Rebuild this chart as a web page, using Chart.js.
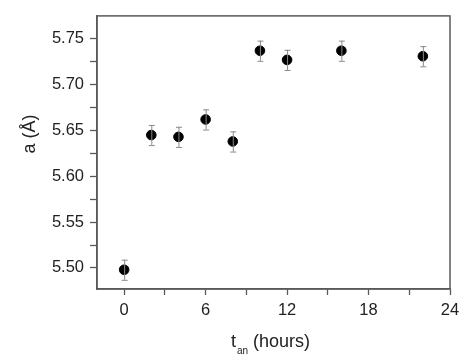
<!DOCTYPE html>
<html>
<head>
<meta charset="utf-8">
<script src="https://cdn.jsdelivr.net/npm/chart.js@4.4.0/dist/chart.umd.min.js"></script>
<style>
  html, body { margin: 0; padding: 0; background: #fff; }
  #wrap { width: 474px; height: 364px; }
</style>
</head>
<body>
<div id="wrap"><canvas id="chart" width="474" height="364"></canvas></div>
<script>
// annealing time (hours) and lattice parameter a (Å)
const tHours = [0, 2, 4, 6, 8, 10, 12, 16, 22];
const aValues = [5.498, 5.645, 5.643, 5.662, 5.638, 5.737, 5.727, 5.737, 5.731];
const aErrors = [0.011, 0.011, 0.011, 0.011, 0.011, 0.011, 0.011, 0.011, 0.011];

const xTicks = [0, 3, 6, 9, 12, 15, 18, 21, 24];
const xLabels = [0, 6, 12, 18, 24];
const yTicks = [5.50, 5.525, 5.55, 5.575, 5.60, 5.625, 5.65, 5.675, 5.70, 5.725, 5.75];
const yLabels = [5.50, 5.55, 5.60, 5.65, 5.70, 5.75];

const axisColor = "#5a5a5a";
const textColor = "#222";
const fontFam = "'Liberation Sans', Arial, sans-serif";

// error bars + frame + axis titles
const extras = {
  id: "extras",
  afterDatasetsDraw(chart) {
    const ctx = chart.ctx;
    const xs = chart.scales.x, ys = chart.scales.y;
    ctx.save();
    ctx.strokeStyle = "#8a8a8a";
    ctx.lineWidth = 1;
    tHours.forEach((t, i) => {
      const px = xs.getPixelForValue(t);
      const top = ys.getPixelForValue(aValues[i] + aErrors[i]);
      const bot = ys.getPixelForValue(aValues[i] - aErrors[i]);
      ctx.beginPath();
      ctx.moveTo(px + 0.5, top); ctx.lineTo(px + 0.5, bot);
      ctx.moveTo(px - 2.5, top + 0.5); ctx.lineTo(px + 3.5, top + 0.5);
      ctx.moveTo(px - 2.5, bot + 0.5); ctx.lineTo(px + 3.5, bot + 0.5);
      ctx.stroke();
    });
    ctx.restore();
  },
  afterDraw(chart) {
    const ctx = chart.ctx;
    const a = chart.chartArea;
    ctx.save();
    ctx.strokeStyle = axisColor;
    ctx.lineWidth = 1.5;
    ctx.strokeRect(a.left, a.top, a.right - a.left, a.bottom - a.top);

    ctx.fillStyle = textColor;
    ctx.textBaseline = "alphabetic";
    ctx.textAlign = "left";
    // x title: t_an (hours)
    ctx.font = "18px " + fontFam;
    ctx.fillText("t", 231, 347);
    ctx.font = "10px " + fontFam;
    ctx.fillText("an", 237, 354);
    ctx.font = "18px " + fontFam;
    ctx.fillText("(hours)", 253, 347);

    // y title
    ctx.translate(35, 134);
    ctx.rotate(-Math.PI / 2);
    ctx.textAlign = "center";
    ctx.font = "18px " + fontFam;
    ctx.fillText("a (Å)", 0, 0);
    ctx.restore();
  }
};

new Chart(document.getElementById("chart"), {
  type: "scatter",
  data: {
    datasets: [{
      label: "a",
      data: tHours.map((t, i) => ({ x: t, y: aValues[i] })),
      backgroundColor: "#000",
      borderColor: "#000",
      pointRadius: 4.8,
      pointHoverRadius: 4.8
    }]
  },
  options: {
    responsive: false,
    animation: false,
    layout: { padding: { top: 3, right: 24, left: 0, bottom: 0 } },
    plugins: { legend: { display: false }, tooltip: { enabled: false } },
    scales: {
      x: {
        type: "linear",
        min: -2,
        max: 24,
        afterFit(s) { s.height = 75; },
        afterBuildTicks(s) { s.ticks = xTicks.map(v => ({ value: v })); },
        grid: { drawOnChartArea: false, drawTicks: true, tickLength: 6, color: axisColor, tickWidth: 1.3 },
        border: { display: true, color: axisColor, width: 1.5 },
        ticks: {
          padding: 6,
          color: textColor,
          font: { size: 16.5, family: fontFam },
          callback: v => xLabels.includes(v) ? String(v) : ""
        }
      },
      y: {
        min: 5.477,
        max: 5.775,
        afterFit(s) { s.width = 97; },
        afterBuildTicks(s) { s.ticks = yTicks.map(v => ({ value: v })); },
        grid: { drawOnChartArea: false, drawTicks: true, tickLength: 7, color: axisColor, tickWidth: 1.3 },
        border: { display: true, color: axisColor, width: 1.5 },
        ticks: {
          padding: 6,
          color: textColor,
          font: { size: 16.5, family: fontFam },
          callback: v => yLabels.some(l => Math.abs(l - v) < 1e-6) ? v.toFixed(2) : ""
        }
      }
    }
  },
  plugins: [extras]
});
</script>
</body>
</html>
